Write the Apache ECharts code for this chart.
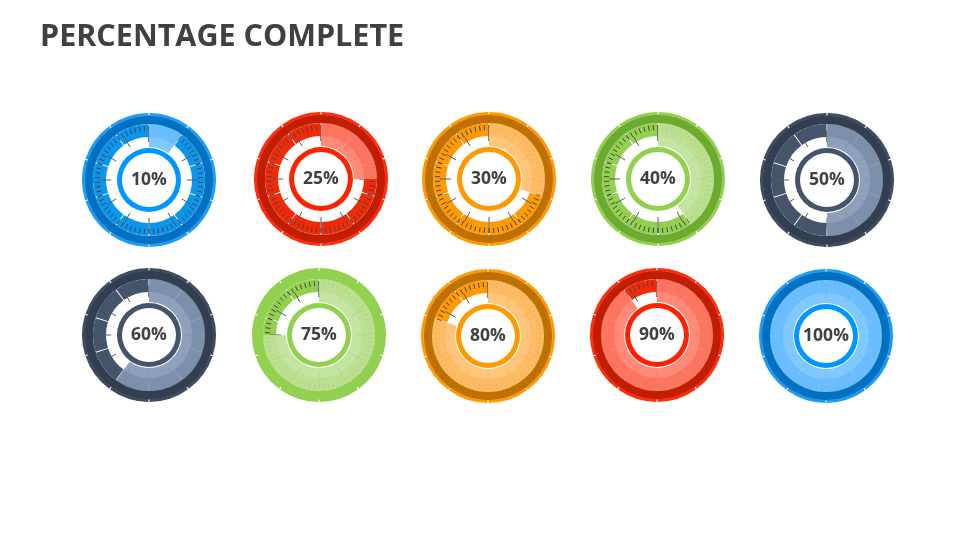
<!DOCTYPE html>
<html><head><meta charset="utf-8">
<script src="https://cdn.jsdelivr.net/npm/echarts@6/dist/echarts.min.js"></script>
<style>html,body{margin:0;padding:0;background:#fff}#c{width:960px;height:540px}</style>
</head><body><div id="c"></div>
<script>
// ---- data ----
const titleText = 'PERCENTAGE COMPLETE';
const labels = ['10%', '25%', '30%', '40%', '50%', '60%', '75%', '80%', '90%', '100%'];
const values = [10, 25, 30, 40, 50, 60, 75, 80, 90, 100];
const palettes = ['blue', 'red', 'orange', 'green', 'navy', 'navy', 'lime', 'orange', 'red', 'blue'];

// ---- styles ----
const themes = {
  blue:   {dark: '#0070C0', edge: '#1C9CF2', band: '#0A96EE', center: '#0096FF', fill: '#72C2FF', minor: true},
  red:    {dark: '#BF1E00', edge: '#FF2E0A', band: '#F22A08', center: '#FF2200', fill: '#FF7D69', minor: true},
  orange: {dark: '#BE7000', edge: '#FF9A00', band: '#FF9A00', center: '#FF9900', fill: '#FFBF6B', minor: true},
  green:  {dark: '#6CAA30', edge: '#92D050', band: '#92D050', center: '#92D050', fill: '#BFE197', minor: true},
  lime:   {dark: '#92D050', edge: '#92D050', band: '#92D050', center: '#92D050', fill: '#BFE197', minor: true},
  navy:   {dark: '#333F50', edge: '#3E4C61', band: '#44546A', center: '#44546A', fill: '#8397B2', minor: false}
};
const centers = [[149,180],[321,179],[489,179],[658,179],[827,180],[149,335],[319,335],[488,336],[657,335],[826,336]];

const seg10 = Array.from({length: 10}, () => 1);
const series = [];
values.forEach((v, i) => {
  const t = themes[palettes[i]];
  const c = centers[i];
  const base = {type: 'pie', center: c, startAngle: 90, clockwise: true, silent: true, animation: false,
    label: {show: false}, labelLine: {show: false}, emphasis: {disabled: true}};
  // band
  series.push(Object.assign({}, base, {radius: [43, 56], padAngle: 1.1, z: 1,
    itemStyle: {color: t.band}, data: seg10.map(x => ({value: x}))}));
  // major ticks
  series.push({type: 'gauge', center: c, radius: 49, startAngle: 90, endAngle: -270, min: 0, max: 12,
    splitNumber: 12, z: 2, silent: true, animation: false,
    axisLine: {show: false, lineStyle: {width: 0}}, progress: {show: false}, pointer: {show: false},
    axisTick: {show: false}, axisLabel: {show: false}, detail: {show: false}, title: {show: false},
    splitLine: {show: true, distance: 0, length: 11, lineStyle: {color: '#5a5a5a', width: 1}},
    data: []});
  if (t.minor) {
    series.push({type: 'gauge', center: c, radius: 54, startAngle: 90, endAngle: -270, min: 0, max: 100,
      splitNumber: 10, z: 2, silent: true, animation: false,
      axisLine: {show: false, lineStyle: {width: 0}}, progress: {show: false}, pointer: {show: false},
      splitLine: {show: false}, axisLabel: {show: false}, detail: {show: false}, title: {show: false},
      axisTick: {show: true, distance: 0, splitNumber: 7, length: 5, lineStyle: {color: '#444444', width: 1}},
      data: []});
  }
  // progress fill
  series.push(Object.assign({}, base, {radius: [33, 56], z: 3,
    data: [{value: v, itemStyle: {color: t.fill, opacity: 0.9}},
           {value: 100 - v, itemStyle: {color: 'rgba(0,0,0,0)'}}]}));
  // dark outer ring
  series.push(Object.assign({}, base, {radius: [56, 64.5], z: 4,
    itemStyle: {color: t.dark}, data: [{value: 1}]}));
  // edge ring
  series.push(Object.assign({}, base, {radius: [64, 67], padAngle: 1.0, z: 5,
    itemStyle: {color: t.edge}, data: seg10.map(x => ({value: x}))}));
  // center ring with label
  series.push(Object.assign({}, base, {radius: [27, 32], z: 6,
    itemStyle: {color: t.center},
    label: {show: true, position: 'center', formatter: '{b}', fontFamily: 'Open Sans', fontWeight: 'bold',
      fontSize: 17.5, color: '#404040'},
    data: [{value: 1, name: labels[i]}]}));
});

const chart = echarts.init(document.getElementById('c'), null, {renderer: 'canvas'});
chart.setOption({
  backgroundColor: '#ffffff',
  animation: false,
  title: {text: titleText, left: 40, top: 22, padding: 0,
    textStyle: {fontFamily: 'Open Sans', fontWeight: 'bold', fontSize: 30.5, color: '#404040'}},
  series: series
});
</script></body></html>
